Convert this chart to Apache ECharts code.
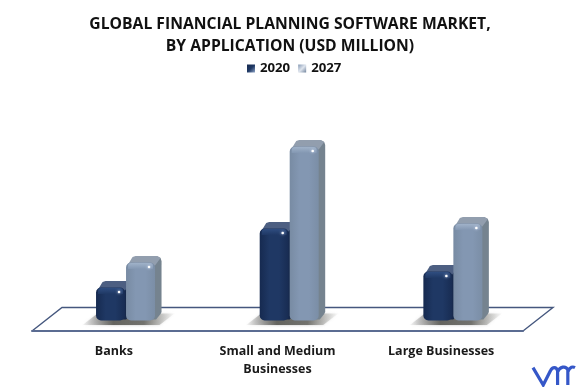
<!DOCTYPE html>
<html><head><meta charset="utf-8">
<style>html,body{margin:0;padding:0;background:#fff}#c{width:579px;height:387px}</style>
<script src="https://cdn.jsdelivr.net/npm/echarts@6/dist/echarts.min.js"></script>
</head><body><div id="c"></div>
<script>
const categories = ['Banks', 'Small and Medium\nBusinesses', 'Large Businesses'];
const values2020 = [33, 92, 49];
const values2027 = [58, 174, 97];
const titleText = 'GLOBAL FINANCIAL PLANNING SOFTWARE MARKET,\nBY APPLICATION (USD MILLION)';

const FLOOR_DX = 11.7, FLOOR_DY = -10.5, BAR_W = 29, DEPTH_X = 6.5, DEPTH_Y = 6.5;
const grad = (x0,y0,x1,y1,stops)=>new echarts.graphic.LinearGradient(x0,y0,x1,y1,stops.map((c,i)=>({offset:stops.length>1?i/(stops.length-1):0,color:c})));
const PAL = {
  '2020': {front:['#162a50','#1f3864','#1f3864','#182c52'], bevel:'#2f4d80', side:'#17294b', top:'#4d5f82'},
  '2027': {front:['#788ba3','#8397b2','#8397b2','#7b8ea6'], bevel:'#a0b2c9', side:'#75838f', top:'#929eae'}
};

function barRenderer(name, shift){
  const p = PAL[name];
  return function(params, api){
    const top = api.coord([api.value(0), api.value(1)]);
    const base = api.coord([api.value(0), 0]);
    const x = top[0] + FLOOR_DX + shift, y = top[1] + FLOOR_DY, b = base[1] + FLOOR_DY;
    const w = BAR_W, dx = DEPTH_X, dy = DEPTH_Y;
    return {type:'group', children:[
      {type:'polygon', shape:{points:[[x+w-3,y+2],[x+w+dx-3,y-dy+1],[x+w+dx-1,y-dy+2],[x+w+dx,y-dy+5],[x+w+dx,b-dy-2],[x+w+dx-1,b-dy],[x+w+1,b-1],[x+w-3,b-1]]}, style:{fill:p.side}},
      {type:'polygon', shape:{points:[[x+2,y+2],[x+dx,y-dy+1],[x+dx+3,y-dy],[x+w+dx-4,y-dy],[x+w+dx-1,y-dy+2],[x+w,y+3]]}, style:{fill:p.top}},
      {type:'rect', shape:{x:x,y:y,width:w,height:b-y,r:5}, style:{fill:grad(0,0,1,0,p.front)}},
      {type:'rect', shape:{x:x+2,y:y+0.5,width:w-4,height:6,r:[3,3,0,0]}, style:{fill:grad(0,0,0,1,[p.bevel,p.front[1]])}},
      {type:'circle', shape:{cx:x+w-6,cy:y+4.5,r:1.3}, style:{fill:'#fff',shadowBlur:3,shadowColor:'#dfe8ff'}}
    ]};
  };
}
function shadowRenderer(params, api){
  const base = api.coord([api.value(0), 0]);
  const cx = base[0] + FLOOR_DX, b = base[1] + FLOOR_DY;
  return {type:'polygon', shape:{points:[[cx-43,b+4.5],[cx-28,b-7],[cx+49,b-7],[cx+34,b+4.5]]},
    style:{fill:grad(0,0,1,0,['rgba(110,110,110,0.05)','rgba(95,95,90,0.95)','rgba(105,105,100,0.9)','rgba(170,170,165,0.05)']),shadowBlur:3,shadowColor:'rgba(120,120,120,0.5)'}};
}
function logoRenderer(){
  return {type:'path',shape:{pathData:'M534 368 L544 384 L551 371 C553 367 557 367 558 371 L558 384 M558 372 C560 367 566 366 568 370 L568 384 M568 372 C570 367 573 367 575 368',x:533,y:367,width:42,height:18,layout:'cover'},style:{stroke:'#3557c8',lineWidth:3.2,fill:null}};
}

const chart = echarts.init(document.getElementById('c'), null, {renderer:'canvas'});
chart.setOption({
  animation:false,
  title:{text:titleText,left:285,top:9,textAlign:'center',
    textStyle:{fontFamily:'Open Sans',fontWeight:700,fontSize:15.7,color:'#111',lineHeight:22}},
  legend:{top:57,left:242,itemWidth:8,itemHeight:8,itemGap:8,icon:'rect',selectedMode:false,
    textStyle:{fontFamily:'Open Sans',fontWeight:700,fontSize:13.2,color:'#111'},
    data:[
      {name:'2020',itemStyle:{color:grad(0,0,1,1,['#16294e','#1f3864','#8fa5c8'])}},
      {name:'2027',itemStyle:{color:grad(0,0,1,1,['#8397b2','#dfe5ee','#70839c'])}}
    ]},
  grid:{left:32,right:56,top:131,bottom:56},
  xAxis:{type:'category',data:categories,
    axisLine:{show:true,lineStyle:{color:'#5b6c92',width:2}},axisTick:{show:false},splitLine:{show:false},
    axisLabel:{interval:0,margin:11,fontFamily:'Open Sans',fontWeight:700,fontSize:12.5,color:'#1a1a1a',lineHeight:18}},
  yAxis:{type:'value',min:0,max:200,show:false},
  graphic:[
    {type:'polyline',z:0,shape:{points:[[32,331],[62,307.5],[553,307.5],[523,331]]},style:{stroke:'#45577e',lineWidth:1.4,fill:null}}
  ],
  series:[
    {type:'custom',name:'shadow',z:1,silent:true,data:categories.map((c,i)=>[i]),encode:{x:0},renderItem:shadowRenderer},
    {type:'custom',name:'2020',z:3,silent:true,data:values2020.map((v,i)=>[i,v]),encode:{x:0,y:1},renderItem:barRenderer('2020',-29.5)},
    {type:'custom',name:'2027',z:4,silent:true,data:values2027.map((v,i)=>[i,v]),encode:{x:0,y:1},renderItem:barRenderer('2027',0.5)},
    {type:'custom',name:'logo',z:5,silent:true,data:[[0]],encode:{x:0},renderItem:logoRenderer}
  ]
});
</script></body></html>
